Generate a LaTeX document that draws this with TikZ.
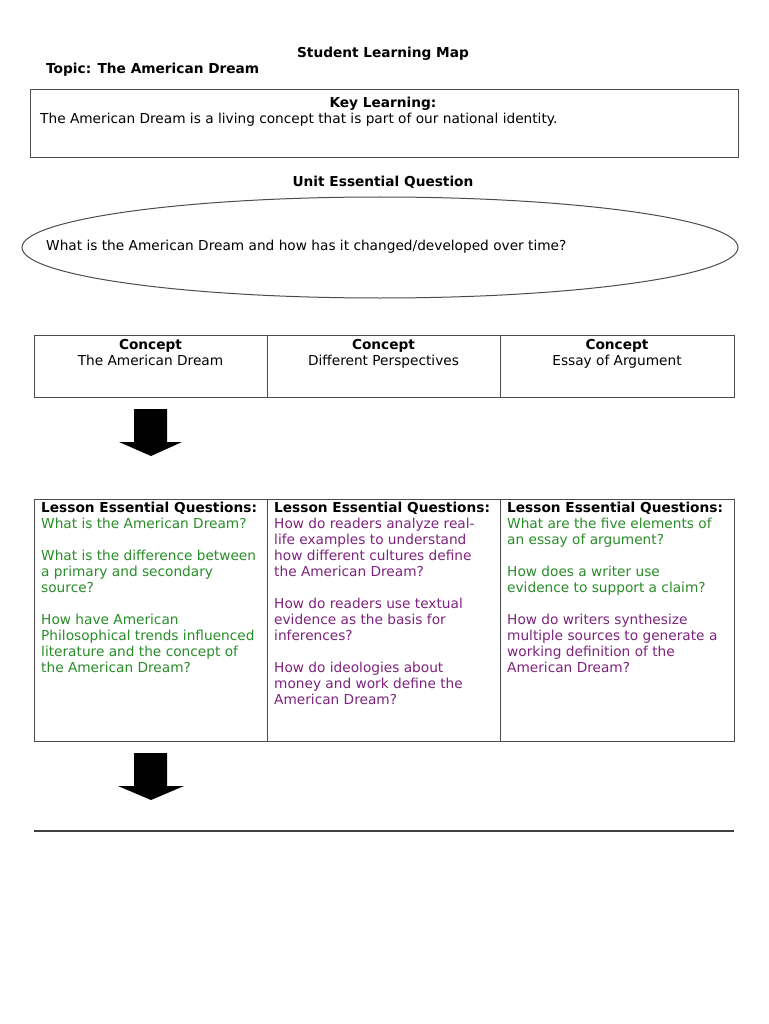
\documentclass[tikz,border=0pt]{standalone}
\usepackage{fontspec}
\setmainfont{DejaVu Sans}
\definecolor{qgreen}{RGB}{40,140,40}
\definecolor{qpurple}{RGB}{125,35,125}

\begin{document}
\begin{tikzpicture}[x=1pt,y=-1pt,
    every node/.style={font=\fontsize{13.7}{16}\selectfont, inner sep=0pt},
    head/.style={font=\fontsize{13.7}{16}\selectfont\bfseries},
    frame/.style={draw=black!70, line width=1pt},
    lessontext/.style={anchor=north west, align=left}]
  \useasboundingbox (0,0) rectangle (768,1024);
  % heading
  \node[head, anchor=base] (title) at (383,58) {Student Learning Map};
  \node[head, anchor=base west] (topic) at (46,74) {Topic: The American Dream};
  % key learning
  \draw[frame] (30,90) rectangle (738,158);
  \node[head, anchor=base] (keyhead) at (383,108) {Key Learning:};
  \node[anchor=base west] (keytext) at (40,124) {The American Dream is a living concept that is part of our national identity.};
  % unit question
  \node[head, anchor=base] (unithead) at (383,187) {Unit Essential Question};
  \draw[frame] (380,247.5) ellipse [x radius=358, y radius=50.5];
  \node[anchor=base west] (unittext) at (46,251) {What is the American Dream and how has it changed/developed over time?};
  % concepts
  \draw[frame] (34,335) rectangle (734,397);
  \draw[frame] (267,335) -- (267,397);
  \draw[frame] (500,335) -- (500,397);
  \node[head, anchor=base] (conc1) at (150.5,349) {Concept};
  \node[anchor=base] (conc1t) at (150.5,365) {The American Dream};
  \node[head, anchor=base] (conc2) at (383.5,349) {Concept};
  \node[anchor=base] (conc2t) at (383.5,365) {Different Perspectives};
  \node[head, anchor=base] (conc3) at (617,349) {Concept};
  \node[anchor=base] (conc3t) at (617,365) {Essay of Argument};
  \fill (134,409) -- (167,409) -- (167,442) -- (182,442) -- (151,456) -- (119,442) -- (134,442) -- cycle;
  % lesson questions
  \draw[frame] (34,499) rectangle (734,741);
  \draw[frame] (267,499) -- (267,741);
  \draw[frame] (500,499) -- (500,741);
  \node[lessontext] (lesson1) at (41,502) {\textbf{Lesson Essential Questions:}\\
    \color{qgreen}What is the American Dream?\\[16pt]
    \color{qgreen}What is the difference between\\ \color{qgreen}a primary and secondary\\ \color{qgreen}source?\\[16pt]
    \color{qgreen}How have American\\ \color{qgreen}Philosophical trends influenced\\ \color{qgreen}literature and the concept of\\ \color{qgreen}the American Dream?};
  \node[lessontext] (lesson2) at (274,502) {\textbf{Lesson Essential Questions:}\\
    \color{qpurple}How do readers analyze real-\\ \color{qpurple}life examples to understand\\ \color{qpurple}how different cultures define\\ \color{qpurple}the American Dream?\\[16pt]
    \color{qpurple}How do readers use textual\\ \color{qpurple}evidence as the basis for\\ \color{qpurple}inferences?\\[16pt]
    \color{qpurple}How do ideologies about\\ \color{qpurple}money and work define the\\ \color{qpurple}American Dream?};
  \node[lessontext] (lesson3) at (507,502) {\textbf{Lesson Essential Questions:}\\
    \color{qgreen}What are the five elements of\\ \color{qgreen}an essay of argument?\\[16pt]
    \color{qgreen}How does a writer use\\ \color{qgreen}evidence to support a claim?\\[16pt]
    \color{qpurple}How do writers synthesize\\ \color{qpurple}multiple sources to generate a\\ \color{qpurple}working definition of the\\ \color{qpurple}American Dream?};
  \fill (134,753) -- (167,753) -- (167,786) -- (184,786) -- (151,800) -- (118,786) -- (134,786) -- cycle;
  \draw[line width=1.5pt, black!75] (34,831) -- (734,831);
\end{tikzpicture}
\end{document}
